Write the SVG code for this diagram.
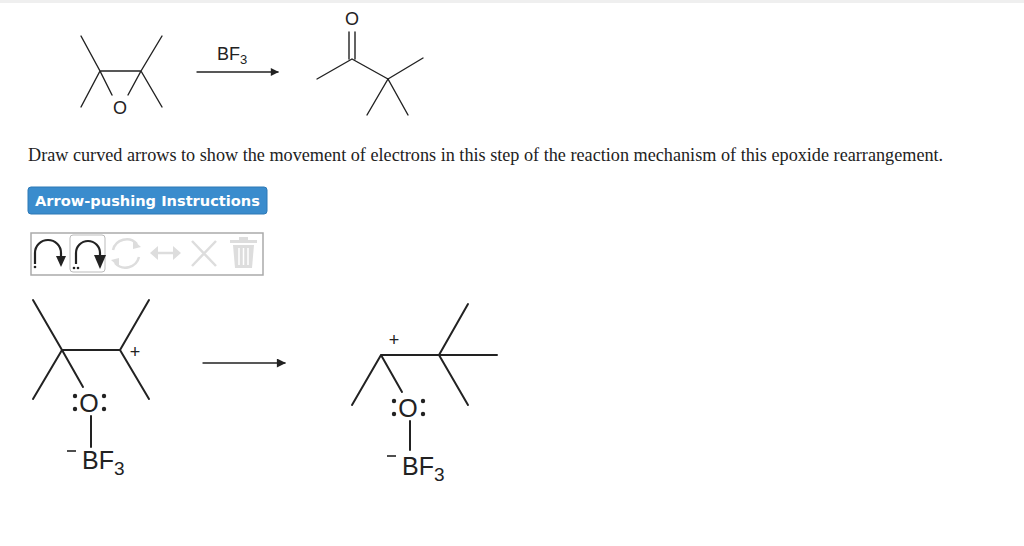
<svg xmlns="http://www.w3.org/2000/svg" width="1024" height="546" viewBox="0 0 1024 546">
<defs>
<style>
.bond{stroke:#222;stroke-width:1.4;fill:none;stroke-linecap:round}
.bond2{stroke:#222;stroke-width:2;fill:none;stroke-linecap:round}
.lbl{font-family:"Liberation Sans",Arial,sans-serif;fill:#222}
.q{font-family:"Liberation Serif","Times New Roman",serif;font-size:18.2px;fill:#222}
.btn{font-family:"DejaVu Sans",Verdana,sans-serif;font-weight:bold;font-size:14.6px;fill:#fff}
.dis{stroke:#ddd;stroke-width:2.5;fill:none}
.dot{fill:#222}
</style>
<marker id="ah" viewBox="0 0 10 10" refX="9" refY="5" markerWidth="11" markerHeight="8" markerUnits="userSpaceOnUse" orient="auto"><path d="M0,0 L10,5 L0,10 z" fill="#222"/></marker>
<marker id="ah2" viewBox="0 0 10 10" refX="9" refY="5" markerWidth="13" markerHeight="9" markerUnits="userSpaceOnUse" orient="auto"><path d="M0,0 L10,5 L0,10 z" fill="#222"/></marker>
</defs>
<rect x="0" y="0" width="1024" height="546" fill="#fff"/>
<rect x="0" y="0" width="1024" height="3" fill="#efefef"/>

<g id="epoxide">
<path class="bond" d="M100,71 L141,71 M100,71 L81,36 M100,71 L81,107 M141,71 L162,36 M141,71 L162,107 M100,71 L112,95 M141,71 L128,95"/>
<text class="lbl" x="120" y="114" font-size="18" text-anchor="middle">O</text>
</g>

<g id="ketone">
<path class="bond" d="M349,32 L349,59 M355,32 L355,59 M352,59 L317,79 M352,59 L388,79 M388,79 L423,58 M388,79 L367,115 M388,79 L408,115"/>
<text class="lbl" x="352" y="25" font-size="18" text-anchor="middle">O</text>
</g>

<g id="connectors">
<line class="bond" x1="197" y1="72" x2="278" y2="72" marker-end="url(#ah)"/>
<line class="bond" x1="203" y1="363" x2="285" y2="363" marker-end="url(#ah2)"/>
</g>
<g id="bf3-reagent">
<text class="lbl" x="217" y="60" font-size="18">BF<tspan font-size="13" dy="4">3</tspan></text>
</g>

<g id="question">
<text class="q" x="28" y="161">Draw curved arrows to show the movement of electrons in this step of the reaction mechanism of this epoxide rearrangement.</text>
</g>

<g id="instructions-button">
<rect x="28" y="187" width="239" height="27" rx="3" fill="#3a8ccd" stroke="#2d78b5"/>
<text class="btn" x="147.5" y="206" text-anchor="middle">Arrow-pushing Instructions</text>
</g>

<g id="toolbar">
<rect x="31" y="233" width="232" height="42" fill="#fff" stroke="#aaa" stroke-width="1.5"/>
<rect x="70" y="235" width="35" height="37" rx="3" fill="#fff" stroke="#bbb"/>
<path d="M35,264 L35,253 A13,13 0 0 1 61,253 L61,257" stroke="#222" stroke-width="2.2" fill="none"/>
<path d="M56,256 L61,267 L66,256 z" fill="#222"/>
<circle cx="35" cy="267" r="1.3" fill="#222"/>
<path d="M76,264 L76,253 A12,12 0 0 1 100,253 L100,256" stroke="#222" stroke-width="2.2" fill="none"/>
<path d="M94,255 L100,269 L106,255 z" fill="#222"/>
<circle cx="74" cy="268" r="1.3" fill="#222"/><circle cx="78" cy="268" r="1.3" fill="#222"/>
<path class="dis" d="M113,250 A14,14 0 0 1 137,244 M139,257 A14,14 0 0 1 115,263"/>
<path d="M133,240 L141,247 L133,249 z M119,267 L111,260 L119,258 z" fill="#ddd"/>
<path class="dis" d="M154,253 L177,253"/>
<path d="M150,253 L158,246 L158,260 z M181,253 L173,246 L173,260 z" fill="#ddd"/>
<path class="dis" d="M192,241 L216,266 M216,241 L192,266"/>
<rect x="230" y="240" width="27" height="3" fill="#ddd"/>
<rect x="239" y="237" width="9" height="3" fill="#ddd"/>
<path d="M233,245 L254,245 L252,268 L235,268 z" fill="#ddd"/>
<path d="M239,248 L239,265 M243.5,248 L243.5,265 M248,248 L248,265" stroke="#fff" stroke-width="1.5"/>
</g>

<g id="cation-1">
<path class="bond2" d="M62,350 L120,350 M62,350 L33,300 M62,350 L33,399 M62,350 L83,387 M120,350 L149,300 M120,350 L149,399 M91,416 L91,447"/>
<text class="lbl" x="135" y="358" font-size="18" text-anchor="middle">+</text>
<text class="lbl" x="89" y="412" font-size="25" text-anchor="middle">O</text>
<circle class="dot" cx="75" cy="396" r="2.2"/><circle class="dot" cx="75" cy="409" r="2.2"/>
<circle class="dot" cx="104" cy="396" r="2.2"/><circle class="dot" cx="104" cy="409" r="2.2"/>
<text class="lbl" x="82" y="469" font-size="25">BF<tspan font-size="19" dy="6">3</tspan></text>
<line x1="67" y1="451" x2="76" y2="451" stroke="#222" stroke-width="1.6"/>
</g>

<g id="cation-2">
<path class="bond2" d="M381,355 L439,355 M381,355 L352,405 M381,355 L402,392 M439,355 L468,304 M439,355 L497,355 M439,355 L468,405 M410,421 L410,450"/>
<text class="lbl" x="394" y="346" font-size="18" text-anchor="middle">+</text>
<text class="lbl" x="408" y="417" font-size="25" text-anchor="middle">O</text>
<circle class="dot" cx="394" cy="401" r="2.2"/><circle class="dot" cx="394" cy="414" r="2.2"/>
<circle class="dot" cx="423" cy="401" r="2.2"/><circle class="dot" cx="423" cy="414" r="2.2"/>
<text class="lbl" x="402" y="475" font-size="25">BF<tspan font-size="19" dy="6">3</tspan></text>
<line x1="387" y1="456" x2="396" y2="456" stroke="#222" stroke-width="1.6"/>
</g>
</svg>
